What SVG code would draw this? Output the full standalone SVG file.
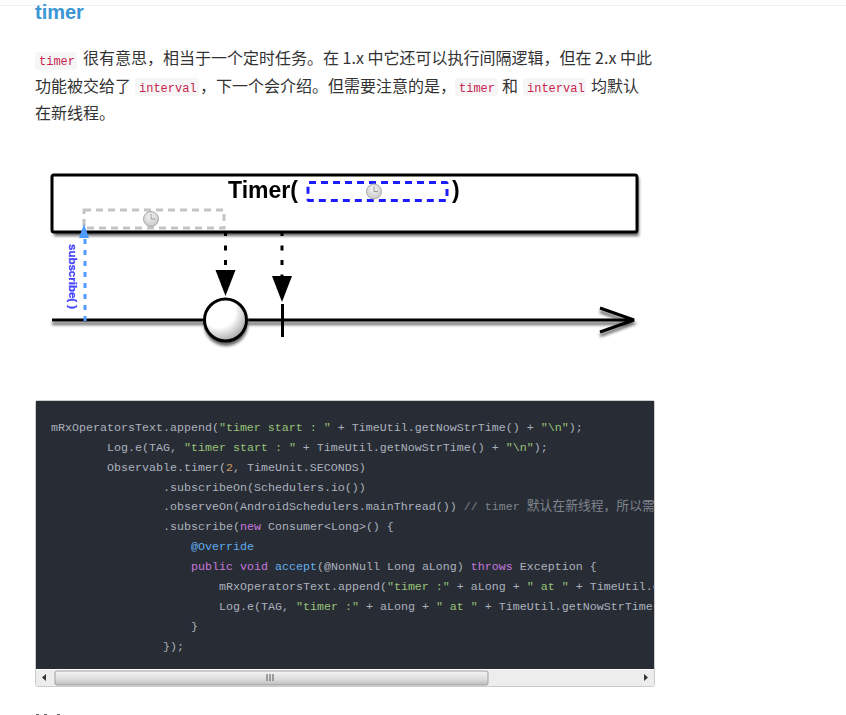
<svg xmlns="http://www.w3.org/2000/svg" width="846" height="715" viewBox="0 0 846 715">
<style>
.b{font-family:"Noto Sans CJK SC","Liberation Sans",sans-serif;font-size:16px;fill:#333}
.ic{font-family:"Liberation Mono",monospace;font-size:12px;fill:#c7254e}
.icb{fill:#f6f6f6}
.c{font-family:"Liberation Mono","Noto Sans CJK SC",monospace;font-size:11.67px;fill:#abb2bf;white-space:pre}
.s{fill:#98c379}.k{fill:#c678dd}.f{fill:#61aeee}.n{fill:#d19a66}.m{fill:#7f848e}
.cjk{font-size:12.8px}
.ax{stroke:#000;stroke-width:3;fill:none}
</style>
<defs>
<filter id="blur" x="0" y="0" width="846" height="715" filterUnits="userSpaceOnUse"><feGaussianBlur stdDeviation="1.6"/></filter>
<filter id="soft" x="0" y="0" width="846" height="715" filterUnits="userSpaceOnUse"><feGaussianBlur stdDeviation="0.45"/></filter>
<radialGradient id="ball" cx="0.35" cy="0.3" r="0.85"><stop offset="0.45" stop-color="#fff"/><stop offset="1" stop-color="#8a8a8a"/></radialGradient>
<linearGradient id="thumb" x1="0" y1="0" x2="0" y2="1"><stop offset="0" stop-color="#f4f4f4"/><stop offset="0.6" stop-color="#dcdcdc"/><stop offset="1" stop-color="#bdbdbd"/></linearGradient>
<radialGradient id="clk" cx="0.45" cy="0.35" r="0.7"><stop offset="0" stop-color="#f4f4f4"/><stop offset="1" stop-color="#c4c4c4"/></radialGradient>
<g id="clock"><circle r="7.5" fill="url(#clk)" stroke="#aaa" stroke-width="1"/><path d="M0-5V0H4" fill="none" stroke="#888" stroke-width="0.8"/></g>
<clipPath id="codeclip"><rect x="36" y="401" width="618" height="268"/></clipPath>
</defs>
<rect width="846" height="715" fill="#fff"/>
<rect x="0" y="5" width="846" height="1" fill="#eee"/>
<g id="article-text">
<text x="35" y="19" font-family="Liberation Sans,sans-serif" font-weight="700" font-size="20" fill="#3a96d4">timer</text>
<rect class="icb" x="35" y="52" width="42" height="18" rx="3"/>
<text class="ic" x="39" y="65">timer</text>
<text class="b" x="83" y="64">很有意思，相当于一个定时任务。在 1.x 中它还可以执行间隔逻辑，但在 2.x 中此</text>
<text class="b" x="35" y="92">功能被交给了</text>
<rect class="icb" x="135" y="78" width="64" height="18" rx="3"/>
<text class="ic" x="139" y="92">interval</text>
<text class="b" x="200" y="92">，下一个会介绍。但需要注意的是，</text>
<rect class="icb" x="455" y="78" width="43" height="18" rx="3"/>
<text class="ic" x="459" y="92">timer</text>
<text class="b" x="502" y="92">和</text>
<rect class="icb" x="523" y="78" width="63" height="18" rx="3"/>
<text class="ic" x="527" y="92">interval</text>
<text class="b" x="591" y="92">均默认</text>
<text class="b" x="35" y="119">在新线程。</text>
</g>
<g filter="url(#soft)">
<g id="timer-box">
<rect filter="url(#blur)" x="54" y="178" width="585" height="58" fill="#666"/>
<rect x="52" y="175" width="585" height="57" rx="2" fill="#fff" stroke="#000" stroke-width="3"/>
<text x="228" y="198" font-family="Liberation Sans,sans-serif" font-weight="700" font-size="23" fill="#000">Timer(</text>
<text x="452" y="198" font-family="Liberation Sans,sans-serif" font-weight="700" font-size="23" fill="#000">)</text>
<rect x="308" y="182.500" width="139" height="18" rx="1" fill="none" stroke="#1f1fff" stroke-width="3" stroke-dasharray="7 5"/>
<use href="#clock" x="374" y="191.500"/>
<rect x="84" y="210" width="140" height="18" fill="none" stroke="#c4c4c4" stroke-width="3" stroke-dasharray="7 5"/>
<use href="#clock" x="151" y="219"/>
</g>
<g id="connectors">
<path filter="url(#blur)" d="M52 323.500H632M600 311.500 633 323.500 600 335.500" fill="none" stroke="#666" stroke-width="3"/>
<path class="ax" d="M52 320H634M600 308 634 320 600 332" stroke-miterlimit="2"/>
<path d="M85 321V236" fill="none" stroke="#4f9bff" stroke-width="3" stroke-dasharray="5 6"/>
<path d="M84 224 89 238H79Z" fill="#4f9bff"/>
<path d="M225.500 231V266" fill="none" stroke="#000" stroke-width="3" stroke-dasharray="5 9.500"/>
<path d="M215.500 270H235.500L225.500 296Z" fill="#000"/>
<path d="M282 231V276" fill="none" stroke="#000" stroke-width="3" stroke-dasharray="5 9.500"/>
<path d="M272 276H292L282 302Z" fill="#000"/>
</g>
<g id="subscribe-label"><text transform="translate(69 244) rotate(90)" font-family="Liberation Sans,sans-serif" font-weight="700" font-size="11.500" fill="#4444ff" stroke="#4444ff" stroke-width="0.3">subscribe( )</text></g>
<g id="tick"><path d="M282.500 304V337" stroke="#000" stroke-width="3"/></g>
<g id="marble">
<circle filter="url(#blur)" cx="226" cy="324" r="22" fill="#666"/>
<circle cx="225.500" cy="320" r="21" fill="url(#ball)" stroke="#000" stroke-width="3"/>
</g>
</g>
<g id="code-block">
<rect x="35.500" y="400.500" width="619" height="286" rx="2" fill="#eee" stroke="#ccc"/>
<rect x="36" y="401" width="618" height="268" fill="#282c34"/>
<g clip-path="url(#codeclip)">
<text class="c" x="51" y="431">mRxOperatorsText.append(<tspan class="s">"timer start : "</tspan> + TimeUtil.getNowStrTime() + <tspan class="s">"\n"</tspan>);</text>
<text class="c" x="107" y="451">Log.e(TAG, <tspan class="s">"timer start : "</tspan> + TimeUtil.getNowStrTime() + <tspan class="s">"\n"</tspan>);</text>
<text class="c" x="107" y="471">Observable.timer(<tspan class="n">2</tspan>, TimeUnit.SECONDS)</text>
<text class="c" x="163" y="491">.subscribeOn(Schedulers.io())</text>
<text class="c" x="163" y="510">.observeOn(AndroidSchedulers.mainThread()) <tspan class="m">// timer <tspan class="cjk">默认在新线程，所以需要切换回主线程</tspan></tspan></text>
<text class="c" x="163" y="530">.subscribe(<tspan class="k">new</tspan> Consumer&lt;Long&gt;() {</text>
<text class="c f" x="191" y="550">@Override</text>
<text class="c" x="191" y="570"><tspan class="k">public</tspan> <tspan class="k">void</tspan> <tspan class="f">accept</tspan>(@NonNull Long aLong) <tspan class="k">throws</tspan> Exception {</text>
<text class="c" x="219" y="590">mRxOperatorsText.append(<tspan class="s">"timer :"</tspan> + aLong + <tspan class="s">" at "</tspan> + TimeUtil.getNowStrTime()</text>
<text class="c" x="219" y="610">Log.e(TAG, <tspan class="s">"timer :"</tspan> + aLong + <tspan class="s">" at "</tspan> + TimeUtil.getNowStrTime()</text>
<text class="c" x="191" y="630">}</text>
<text class="c" x="163" y="650">});</text>
</g>
</g>
<g id="scrollbar">
<rect x="36" y="669" width="618" height="17" fill="#ededed"/>
<rect x="36" y="669" width="618" height="1" fill="#fff"/>
<rect x="55" y="671" width="433" height="14" rx="2" fill="url(#thumb)" stroke="#a0a0a0"/>
<path d="M267 674v7M270 674v7M273 674v7" stroke="#555" stroke-width="1"/>
<path d="M46 674V681L42 677.500Z" fill="#333"/>
<path d="M644 674V681L648 677.500Z" fill="#333"/>
</g>
<path id="next-line-tops" d="M36 714h3v1h-3zM44 714h3v1h-3zM57 714h3v1h-3z" fill="#666"/>
</svg>
